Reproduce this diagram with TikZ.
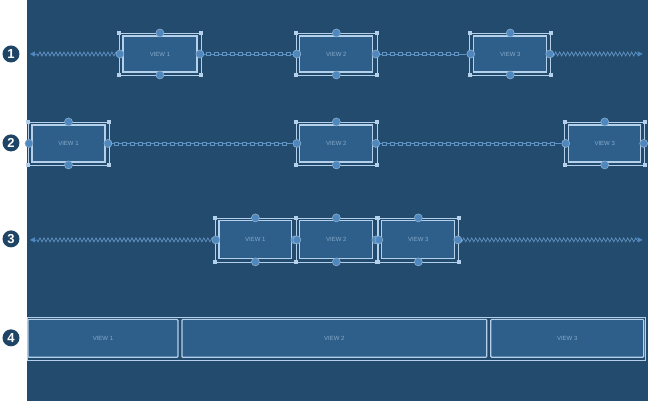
\documentclass[tikz,border=0pt]{standalone}
\usepackage{fontspec}
\setmainfont{Liberation Sans}
\usetikzlibrary{decorations.pathmorphing,decorations.markings,arrows.meta}
\definecolor{bg}{HTML}{234B6E}
\definecolor{boxf}{HTML}{2E5F8A}
\definecolor{lite}{HTML}{B5D0EA}
\definecolor{dotf}{HTML}{4F88BF}
\definecolor{txt}{HTML}{86AACB}
\definecolor{numc}{HTML}{1F4566}
\tikzset{
 x=1pt,y=-1pt,
 vbox/.style={draw=lite,line width=1.2pt,fill=boxf,inner sep=0pt,font=\fontsize{6}{7}\selectfont,text=txt},
 frame/.style={draw=lite,line width=0.6pt},
 corner/.style={fill=lite,minimum size=4pt,inner sep=0pt},
 handle/.style={circle,draw=lite!70!boxf,fill=dotf,line width=0.6pt,minimum size=8pt,inner sep=0pt},
 zig/.style={draw=dotf!90!white,line width=0.7pt,decorate,decoration={zigzag,segment length=4pt,amplitude=2pt}},
 chain/.style={draw=dotf!90!white,line width=0.8pt,postaction={decorate,decoration={markings,mark=between positions 4pt and -4pt step 8pt with {\node[draw=dotf!90!white,fill=bg,minimum width=4pt,minimum height=3pt,inner sep=0pt,line width=0.6pt]{};}}}},
 num/.style={circle,fill=numc,text=white,minimum size=17pt,inner sep=0pt,font=\bfseries\fontsize{13}{13}\selectfont},
 tip/.style={-{Triangle[length=5pt,width=5pt]}}
}
\newcommand{\vb}[6]{% name x1 x2 y1 y2 label
 \node[vbox,minimum width=#3-#2-8,minimum height=#5-#4-6] (#1) at ({(#2+#3)/2},{(#4+#5)/2}) {#6};
 \draw[frame] (#2,#4) rectangle (#3,#5);
 \foreach \cx in {#2,#3}{\foreach \cy in {#4,#5}{\node[corner] at (\cx,\cy){};}}
 \node[handle] (#1t) at ({(#2+#3)/2},#4) {};
 \node[handle] (#1b) at ({(#2+#3)/2},#5) {};
 \node[handle] (#1l) at (#2+1,{(#4+#5)/2}) {};
 \node[handle] (#1r) at (#3-1,{(#4+#5)/2}) {};
}
\begin{document}
\begin{tikzpicture}
\fill[white] (0,0) rectangle (648,401);
\fill[bg] (27,0) rectangle (648,401);
\node[num] (n1) at (11,54) {1};
\node[num] (n2) at (11,143) {2};
\node[num] (n3) at (11,239) {3};
\node[num] (n4) at (11,338) {4};
% row 1
\coordinate (l1) at (30,54); \coordinate (r1) at (643,54);
\draw[zig] (119,54) -- (36,54); \draw[dotf,tip] (36,54) -- (l1);
\draw[zig] (551,54) -- (637,54); \draw[dotf,tip] (637,54) -- (r1);
\vb{a}{119}{201}{33}{75}{VIEW 1}
\vb{b}{296}{377}{33}{75}{VIEW 2}
\vb{c}{470}{551}{33}{75}{VIEW 3}
\draw[chain] (ar) -- (bl); \draw[chain] (br) -- (cl);
% row 2
\vb{d}{28}{109}{122}{165}{VIEW 1}
\vb{e}{296}{377}{122}{165}{VIEW 2}
\vb{f}{565}{645}{122}{165}{VIEW 3}
\draw[chain] (dr) -- (el); \draw[chain] (er) -- (fl);
% row 3
\coordinate (l3) at (30,240); \coordinate (r3) at (643,240);
\draw[zig] (215,240) -- (36,240); \draw[dotf,tip] (36,240) -- (l3);
\draw[zig] (459,240) -- (637,240); \draw[dotf,tip] (637,240) -- (r3);
\vb{g}{215}{296}{218}{262}{VIEW 1}
\vb{h}{296}{377}{218}{262}{VIEW 2}
\vb{i}{378}{459}{218}{262}{VIEW 3}
% row 4
\draw[frame] (27,317) rectangle (646,360);
\node[vbox,rounded corners=1pt,minimum width=150,minimum height=38] (p) at (103,338.5) {VIEW 1};
\node[vbox,rounded corners=1pt,minimum width=305,minimum height=38] (q) at (334.5,338.5) {VIEW 2};
\node[vbox,rounded corners=1pt,minimum width=153,minimum height=38] (r) at (567.5,338.5) {VIEW 3};
\end{tikzpicture}
\end{document}
